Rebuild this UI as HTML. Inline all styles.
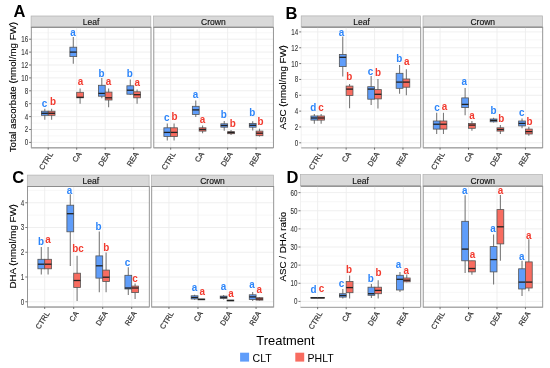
<!DOCTYPE html>
<html><head><meta charset="utf-8"><style>html,body{margin:0;padding:0;background:#fff;} svg{display:block;will-change:transform;}</style></head>
<body><svg width="550" height="368" viewBox="0 0 550 368" font-family='"Liberation Sans", sans-serif'>
<rect width="550" height="368" fill="#fff"/>
<rect x="31.10" y="16.00" width="119.70" height="11.30" fill="#D9D9D9" stroke="none" stroke-width="1"/>
<line x1="31.10" y1="27.30" x2="150.80" y2="27.30" stroke="#7A7A7A" stroke-width="1"/>
<text x="0.00" y="0.00" font-size="9" fill="#111111" text-anchor="middle" font-weight="normal" transform="translate(90.95,24.90) scale(0.95,1)" stroke="#111111" stroke-width="0.15">Leaf</text>
<line x1="31.10" y1="135.95" x2="150.80" y2="135.95" stroke="#F4F4F4" stroke-width="0.7"/>
<line x1="31.10" y1="123.05" x2="150.80" y2="123.05" stroke="#F4F4F4" stroke-width="0.7"/>
<line x1="31.10" y1="110.15" x2="150.80" y2="110.15" stroke="#F4F4F4" stroke-width="0.7"/>
<line x1="31.10" y1="97.25" x2="150.80" y2="97.25" stroke="#F4F4F4" stroke-width="0.7"/>
<line x1="31.10" y1="84.35" x2="150.80" y2="84.35" stroke="#F4F4F4" stroke-width="0.7"/>
<line x1="31.10" y1="71.45" x2="150.80" y2="71.45" stroke="#F4F4F4" stroke-width="0.7"/>
<line x1="31.10" y1="58.55" x2="150.80" y2="58.55" stroke="#F4F4F4" stroke-width="0.7"/>
<line x1="31.10" y1="45.65" x2="150.80" y2="45.65" stroke="#F4F4F4" stroke-width="0.7"/>
<line x1="31.10" y1="32.75" x2="150.80" y2="32.75" stroke="#F4F4F4" stroke-width="0.7"/>
<line x1="31.10" y1="142.40" x2="150.80" y2="142.40" stroke="#EDEDED" stroke-width="0.9"/>
<line x1="31.10" y1="129.50" x2="150.80" y2="129.50" stroke="#EDEDED" stroke-width="0.9"/>
<line x1="31.10" y1="116.60" x2="150.80" y2="116.60" stroke="#EDEDED" stroke-width="0.9"/>
<line x1="31.10" y1="103.70" x2="150.80" y2="103.70" stroke="#EDEDED" stroke-width="0.9"/>
<line x1="31.10" y1="90.80" x2="150.80" y2="90.80" stroke="#EDEDED" stroke-width="0.9"/>
<line x1="31.10" y1="77.90" x2="150.80" y2="77.90" stroke="#EDEDED" stroke-width="0.9"/>
<line x1="31.10" y1="65.00" x2="150.80" y2="65.00" stroke="#EDEDED" stroke-width="0.9"/>
<line x1="31.10" y1="52.10" x2="150.80" y2="52.10" stroke="#EDEDED" stroke-width="0.9"/>
<line x1="31.10" y1="39.20" x2="150.80" y2="39.20" stroke="#EDEDED" stroke-width="0.9"/>
<line x1="48.20" y1="27.30" x2="48.20" y2="147.70" stroke="#EDEDED" stroke-width="0.9"/>
<line x1="76.70" y1="27.30" x2="76.70" y2="147.70" stroke="#EDEDED" stroke-width="0.9"/>
<line x1="105.20" y1="27.30" x2="105.20" y2="147.70" stroke="#EDEDED" stroke-width="0.9"/>
<line x1="133.70" y1="27.30" x2="133.70" y2="147.70" stroke="#EDEDED" stroke-width="0.9"/>
<rect x="31.10" y="16.00" width="119.70" height="11.30" fill="none" stroke="#B0B0B0" stroke-width="0.7"/>
<rect x="31.30" y="27.30" width="119.70" height="120.40" fill="none" stroke="#8A8A8A" stroke-width="0.9"/>
<line x1="31.10" y1="147.80" x2="150.80" y2="147.80" stroke="#ABABAB" stroke-width="1.3"/>
<line x1="48.20" y1="147.70" x2="48.20" y2="149.70" stroke="#555555" stroke-width="0.8"/>
<line x1="76.70" y1="147.70" x2="76.70" y2="149.70" stroke="#555555" stroke-width="0.8"/>
<line x1="105.20" y1="147.70" x2="105.20" y2="149.70" stroke="#555555" stroke-width="0.8"/>
<line x1="133.70" y1="147.70" x2="133.70" y2="149.70" stroke="#555555" stroke-width="0.8"/>
<rect x="153.60" y="16.00" width="119.60" height="11.30" fill="#D9D9D9" stroke="none" stroke-width="1"/>
<line x1="153.60" y1="27.30" x2="273.20" y2="27.30" stroke="#7A7A7A" stroke-width="1"/>
<text x="0.00" y="0.00" font-size="9" fill="#111111" text-anchor="middle" font-weight="normal" transform="translate(213.40,24.90) scale(0.95,1)" stroke="#111111" stroke-width="0.15">Crown</text>
<line x1="153.60" y1="135.95" x2="273.20" y2="135.95" stroke="#F4F4F4" stroke-width="0.7"/>
<line x1="153.60" y1="123.05" x2="273.20" y2="123.05" stroke="#F4F4F4" stroke-width="0.7"/>
<line x1="153.60" y1="110.15" x2="273.20" y2="110.15" stroke="#F4F4F4" stroke-width="0.7"/>
<line x1="153.60" y1="97.25" x2="273.20" y2="97.25" stroke="#F4F4F4" stroke-width="0.7"/>
<line x1="153.60" y1="84.35" x2="273.20" y2="84.35" stroke="#F4F4F4" stroke-width="0.7"/>
<line x1="153.60" y1="71.45" x2="273.20" y2="71.45" stroke="#F4F4F4" stroke-width="0.7"/>
<line x1="153.60" y1="58.55" x2="273.20" y2="58.55" stroke="#F4F4F4" stroke-width="0.7"/>
<line x1="153.60" y1="45.65" x2="273.20" y2="45.65" stroke="#F4F4F4" stroke-width="0.7"/>
<line x1="153.60" y1="32.75" x2="273.20" y2="32.75" stroke="#F4F4F4" stroke-width="0.7"/>
<line x1="153.60" y1="142.40" x2="273.20" y2="142.40" stroke="#EDEDED" stroke-width="0.9"/>
<line x1="153.60" y1="129.50" x2="273.20" y2="129.50" stroke="#EDEDED" stroke-width="0.9"/>
<line x1="153.60" y1="116.60" x2="273.20" y2="116.60" stroke="#EDEDED" stroke-width="0.9"/>
<line x1="153.60" y1="103.70" x2="273.20" y2="103.70" stroke="#EDEDED" stroke-width="0.9"/>
<line x1="153.60" y1="90.80" x2="273.20" y2="90.80" stroke="#EDEDED" stroke-width="0.9"/>
<line x1="153.60" y1="77.90" x2="273.20" y2="77.90" stroke="#EDEDED" stroke-width="0.9"/>
<line x1="153.60" y1="65.00" x2="273.20" y2="65.00" stroke="#EDEDED" stroke-width="0.9"/>
<line x1="153.60" y1="52.10" x2="273.20" y2="52.10" stroke="#EDEDED" stroke-width="0.9"/>
<line x1="153.60" y1="39.20" x2="273.20" y2="39.20" stroke="#EDEDED" stroke-width="0.9"/>
<line x1="170.69" y1="27.30" x2="170.69" y2="147.70" stroke="#EDEDED" stroke-width="0.9"/>
<line x1="199.16" y1="27.30" x2="199.16" y2="147.70" stroke="#EDEDED" stroke-width="0.9"/>
<line x1="227.64" y1="27.30" x2="227.64" y2="147.70" stroke="#EDEDED" stroke-width="0.9"/>
<line x1="256.11" y1="27.30" x2="256.11" y2="147.70" stroke="#EDEDED" stroke-width="0.9"/>
<rect x="153.60" y="16.00" width="119.60" height="11.30" fill="none" stroke="#B0B0B0" stroke-width="0.7"/>
<rect x="153.80" y="27.30" width="119.60" height="120.40" fill="none" stroke="#8A8A8A" stroke-width="0.9"/>
<line x1="153.60" y1="147.80" x2="273.20" y2="147.80" stroke="#ABABAB" stroke-width="1.3"/>
<line x1="170.69" y1="147.70" x2="170.69" y2="149.70" stroke="#555555" stroke-width="0.8"/>
<line x1="199.16" y1="147.70" x2="199.16" y2="149.70" stroke="#555555" stroke-width="0.8"/>
<line x1="227.64" y1="147.70" x2="227.64" y2="149.70" stroke="#555555" stroke-width="0.8"/>
<line x1="256.11" y1="147.70" x2="256.11" y2="149.70" stroke="#555555" stroke-width="0.8"/>
<line x1="29.10" y1="142.40" x2="31.10" y2="142.40" stroke="#555555" stroke-width="0.8"/>
<text x="0.00" y="0.00" font-size="7.3" fill="#383838" text-anchor="end" font-weight="normal" transform="translate(28.10,145.30) scale(0.85,1.15)" stroke="#383838" stroke-width="0.1">0</text>
<line x1="29.10" y1="129.50" x2="31.10" y2="129.50" stroke="#555555" stroke-width="0.8"/>
<text x="0.00" y="0.00" font-size="7.3" fill="#383838" text-anchor="end" font-weight="normal" transform="translate(28.10,132.40) scale(0.85,1.15)" stroke="#383838" stroke-width="0.1">2</text>
<line x1="29.10" y1="116.60" x2="31.10" y2="116.60" stroke="#555555" stroke-width="0.8"/>
<text x="0.00" y="0.00" font-size="7.3" fill="#383838" text-anchor="end" font-weight="normal" transform="translate(28.10,119.50) scale(0.85,1.15)" stroke="#383838" stroke-width="0.1">4</text>
<line x1="29.10" y1="103.70" x2="31.10" y2="103.70" stroke="#555555" stroke-width="0.8"/>
<text x="0.00" y="0.00" font-size="7.3" fill="#383838" text-anchor="end" font-weight="normal" transform="translate(28.10,106.60) scale(0.85,1.15)" stroke="#383838" stroke-width="0.1">6</text>
<line x1="29.10" y1="90.80" x2="31.10" y2="90.80" stroke="#555555" stroke-width="0.8"/>
<text x="0.00" y="0.00" font-size="7.3" fill="#383838" text-anchor="end" font-weight="normal" transform="translate(28.10,93.70) scale(0.85,1.15)" stroke="#383838" stroke-width="0.1">8</text>
<line x1="29.10" y1="77.90" x2="31.10" y2="77.90" stroke="#555555" stroke-width="0.8"/>
<text x="0.00" y="0.00" font-size="7.3" fill="#383838" text-anchor="end" font-weight="normal" transform="translate(28.10,80.80) scale(0.85,1.15)" stroke="#383838" stroke-width="0.1">10</text>
<line x1="29.10" y1="65.00" x2="31.10" y2="65.00" stroke="#555555" stroke-width="0.8"/>
<text x="0.00" y="0.00" font-size="7.3" fill="#383838" text-anchor="end" font-weight="normal" transform="translate(28.10,67.90) scale(0.85,1.15)" stroke="#383838" stroke-width="0.1">12</text>
<line x1="29.10" y1="52.10" x2="31.10" y2="52.10" stroke="#555555" stroke-width="0.8"/>
<text x="0.00" y="0.00" font-size="7.3" fill="#383838" text-anchor="end" font-weight="normal" transform="translate(28.10,55.00) scale(0.85,1.15)" stroke="#383838" stroke-width="0.1">14</text>
<line x1="29.10" y1="39.20" x2="31.10" y2="39.20" stroke="#555555" stroke-width="0.8"/>
<text x="0.00" y="0.00" font-size="7.3" fill="#383838" text-anchor="end" font-weight="normal" transform="translate(28.10,42.10) scale(0.85,1.15)" stroke="#383838" stroke-width="0.1">16</text>
<text x="0.00" y="0.00" font-size="7.4" fill="#383838" text-anchor="end" font-weight="normal" transform="translate(48.80,151.30) rotate(-58) translate(0,5.33)" stroke="#383838" stroke-width="0.22">CTRL</text>
<text x="0.00" y="0.00" font-size="7.4" fill="#383838" text-anchor="end" font-weight="normal" transform="translate(77.30,151.30) rotate(-58) translate(0,5.33)" stroke="#383838" stroke-width="0.22">CA</text>
<text x="0.00" y="0.00" font-size="7.4" fill="#383838" text-anchor="end" font-weight="normal" transform="translate(105.80,151.30) rotate(-58) translate(0,5.33)" stroke="#383838" stroke-width="0.22">DEA</text>
<text x="0.00" y="0.00" font-size="7.4" fill="#383838" text-anchor="end" font-weight="normal" transform="translate(134.30,151.30) rotate(-58) translate(0,5.33)" stroke="#383838" stroke-width="0.22">REA</text>
<text x="0.00" y="0.00" font-size="7.4" fill="#383838" text-anchor="end" font-weight="normal" transform="translate(171.29,151.30) rotate(-58) translate(0,5.33)" stroke="#383838" stroke-width="0.22">CTRL</text>
<text x="0.00" y="0.00" font-size="7.4" fill="#383838" text-anchor="end" font-weight="normal" transform="translate(199.76,151.30) rotate(-58) translate(0,5.33)" stroke="#383838" stroke-width="0.22">CA</text>
<text x="0.00" y="0.00" font-size="7.4" fill="#383838" text-anchor="end" font-weight="normal" transform="translate(228.24,151.30) rotate(-58) translate(0,5.33)" stroke="#383838" stroke-width="0.22">DEA</text>
<text x="0.00" y="0.00" font-size="7.4" fill="#383838" text-anchor="end" font-weight="normal" transform="translate(256.71,151.30) rotate(-58) translate(0,5.33)" stroke="#383838" stroke-width="0.22">REA</text>
<text x="13.50" y="17.20" font-size="16.5" fill="#000" text-anchor="start" font-weight="bold">A</text>
<text x="0.00" y="0.00" font-size="9.6" fill="#000" text-anchor="middle" font-weight="normal" transform="translate(15.6,87.1) rotate(-90) scale(1.015,0.97)" stroke="#000" stroke-width="0.12">Total ascorbate (nmol/mg FW)</text>
<line x1="44.80" y1="108.80" x2="44.80" y2="119.80" stroke="#7A7A7A" stroke-width="1.1"/>
<rect x="41.40" y="111.20" width="6.80" height="4.10" fill="#5F9DFA" stroke="#555555" stroke-width="0.8"/>
<line x1="41.40" y1="113.30" x2="48.20" y2="113.30" stroke="#222222" stroke-width="1.3"/>
<line x1="51.60" y1="108.80" x2="51.60" y2="119.80" stroke="#7A7A7A" stroke-width="1.1"/>
<rect x="48.20" y="111.20" width="6.80" height="4.10" fill="#F86C60" stroke="#555555" stroke-width="0.8"/>
<line x1="48.20" y1="113.30" x2="55.00" y2="113.30" stroke="#222222" stroke-width="1.3"/>
<line x1="73.30" y1="37.10" x2="73.30" y2="63.70" stroke="#7A7A7A" stroke-width="1.1"/>
<rect x="69.90" y="47.20" width="6.80" height="9.40" fill="#5F9DFA" stroke="#555555" stroke-width="0.8"/>
<line x1="69.90" y1="52.10" x2="76.70" y2="52.10" stroke="#222222" stroke-width="1.3"/>
<line x1="80.10" y1="88.50" x2="80.10" y2="103.80" stroke="#7A7A7A" stroke-width="1.1"/>
<rect x="76.70" y="92.30" width="6.80" height="5.50" fill="#F86C60" stroke="#555555" stroke-width="0.8"/>
<line x1="76.70" y1="97.30" x2="83.50" y2="97.30" stroke="#222222" stroke-width="1.3"/>
<line x1="101.80" y1="77.90" x2="101.80" y2="98.30" stroke="#7A7A7A" stroke-width="1.1"/>
<rect x="98.40" y="85.30" width="6.80" height="10.90" fill="#5F9DFA" stroke="#555555" stroke-width="0.8"/>
<line x1="98.40" y1="93.40" x2="105.20" y2="93.40" stroke="#222222" stroke-width="1.3"/>
<line x1="108.60" y1="88.50" x2="108.60" y2="107.30" stroke="#7A7A7A" stroke-width="1.1"/>
<rect x="105.20" y="92.10" width="6.80" height="7.90" fill="#F86C60" stroke="#555555" stroke-width="0.8"/>
<line x1="105.20" y1="97.80" x2="112.00" y2="97.80" stroke="#222222" stroke-width="1.3"/>
<line x1="130.30" y1="79.60" x2="130.30" y2="95.00" stroke="#7A7A7A" stroke-width="1.1"/>
<rect x="126.90" y="85.80" width="6.80" height="8.40" fill="#5F9DFA" stroke="#555555" stroke-width="0.8"/>
<line x1="126.90" y1="90.20" x2="133.70" y2="90.20" stroke="#222222" stroke-width="1.3"/>
<line x1="137.10" y1="89.40" x2="137.10" y2="103.70" stroke="#7A7A7A" stroke-width="1.1"/>
<rect x="133.70" y="91.80" width="6.80" height="6.00" fill="#F86C60" stroke="#555555" stroke-width="0.8"/>
<line x1="133.70" y1="94.70" x2="140.50" y2="94.70" stroke="#222222" stroke-width="1.3"/>
<text x="0.00" y="0.00" font-size="9.9" fill="#2C85FA" text-anchor="middle" font-weight="bold" transform="translate(44.50,106.60) scale(1,1.03)">c</text>
<text x="0.00" y="0.00" font-size="9.9" fill="#F23A2E" text-anchor="middle" font-weight="bold" transform="translate(52.90,104.50) scale(1,1.03)">b</text>
<text x="0.00" y="0.00" font-size="9.9" fill="#2C85FA" text-anchor="middle" font-weight="bold" transform="translate(73.00,35.80) scale(1,1.03)">a</text>
<text x="0.00" y="0.00" font-size="9.9" fill="#F23A2E" text-anchor="middle" font-weight="bold" transform="translate(80.60,85.20) scale(1,1.03)">a</text>
<text x="0.00" y="0.00" font-size="9.9" fill="#2C85FA" text-anchor="middle" font-weight="bold" transform="translate(101.50,76.60) scale(1,1.03)">b</text>
<text x="0.00" y="0.00" font-size="9.9" fill="#F23A2E" text-anchor="middle" font-weight="bold" transform="translate(108.60,85.10) scale(1,1.03)">a</text>
<text x="0.00" y="0.00" font-size="9.9" fill="#2C85FA" text-anchor="middle" font-weight="bold" transform="translate(129.80,77.10) scale(1,1.03)">b</text>
<text x="0.00" y="0.00" font-size="9.9" fill="#F23A2E" text-anchor="middle" font-weight="bold" transform="translate(137.30,86.40) scale(1,1.03)">a</text>
<line x1="167.29" y1="123.40" x2="167.29" y2="140.50" stroke="#7A7A7A" stroke-width="1.1"/>
<rect x="163.89" y="127.80" width="6.80" height="8.70" fill="#5F9DFA" stroke="#555555" stroke-width="0.8"/>
<line x1="163.89" y1="132.40" x2="170.69" y2="132.40" stroke="#222222" stroke-width="1.3"/>
<line x1="174.09" y1="123.40" x2="174.09" y2="140.50" stroke="#7A7A7A" stroke-width="1.1"/>
<rect x="170.69" y="127.80" width="6.80" height="8.70" fill="#F86C60" stroke="#555555" stroke-width="0.8"/>
<line x1="170.69" y1="132.40" x2="177.49" y2="132.40" stroke="#222222" stroke-width="1.3"/>
<line x1="195.76" y1="100.60" x2="195.76" y2="116.90" stroke="#7A7A7A" stroke-width="1.1"/>
<rect x="192.36" y="106.30" width="6.80" height="8.20" fill="#5F9DFA" stroke="#555555" stroke-width="0.8"/>
<line x1="192.36" y1="109.90" x2="199.16" y2="109.90" stroke="#222222" stroke-width="1.3"/>
<line x1="202.56" y1="125.50" x2="202.56" y2="133.20" stroke="#7A7A7A" stroke-width="1.1"/>
<rect x="199.16" y="127.80" width="6.80" height="3.30" fill="#F86C60" stroke="#555555" stroke-width="0.8"/>
<line x1="199.16" y1="129.50" x2="205.96" y2="129.50" stroke="#222222" stroke-width="1.3"/>
<line x1="224.24" y1="121.00" x2="224.24" y2="130.80" stroke="#7A7A7A" stroke-width="1.1"/>
<rect x="220.84" y="123.80" width="6.80" height="3.40" fill="#5F9DFA" stroke="#555555" stroke-width="0.8"/>
<line x1="220.84" y1="125.50" x2="227.64" y2="125.50" stroke="#222222" stroke-width="1.3"/>
<line x1="231.04" y1="130.00" x2="231.04" y2="134.90" stroke="#7A7A7A" stroke-width="1.1"/>
<rect x="227.64" y="131.60" width="6.80" height="2.10" fill="#F86C60" stroke="#555555" stroke-width="0.8"/>
<line x1="227.64" y1="132.60" x2="234.44" y2="132.60" stroke="#222222" stroke-width="1.3"/>
<line x1="252.71" y1="121.30" x2="252.71" y2="130.40" stroke="#7A7A7A" stroke-width="1.1"/>
<rect x="249.31" y="123.40" width="6.80" height="3.80" fill="#5F9DFA" stroke="#555555" stroke-width="0.8"/>
<line x1="249.31" y1="125.30" x2="256.11" y2="125.30" stroke="#222222" stroke-width="1.3"/>
<line x1="259.51" y1="128.70" x2="259.51" y2="136.50" stroke="#7A7A7A" stroke-width="1.1"/>
<rect x="256.11" y="131.10" width="6.80" height="4.60" fill="#F86C60" stroke="#555555" stroke-width="0.8"/>
<line x1="256.11" y1="133.20" x2="262.91" y2="133.20" stroke="#222222" stroke-width="1.3"/>
<text x="0.00" y="0.00" font-size="9.9" fill="#2C85FA" text-anchor="middle" font-weight="bold" transform="translate(166.70,121.30) scale(1,1.03)">c</text>
<text x="0.00" y="0.00" font-size="9.9" fill="#F23A2E" text-anchor="middle" font-weight="bold" transform="translate(174.60,119.70) scale(1,1.03)">b</text>
<text x="0.00" y="0.00" font-size="9.9" fill="#2C85FA" text-anchor="middle" font-weight="bold" transform="translate(195.40,97.60) scale(1,1.03)">a</text>
<text x="0.00" y="0.00" font-size="9.9" fill="#F23A2E" text-anchor="middle" font-weight="bold" transform="translate(202.60,122.60) scale(1,1.03)">a</text>
<text x="0.00" y="0.00" font-size="9.9" fill="#2C85FA" text-anchor="middle" font-weight="bold" transform="translate(223.80,118.30) scale(1,1.03)">b</text>
<text x="0.00" y="0.00" font-size="9.9" fill="#F23A2E" text-anchor="middle" font-weight="bold" transform="translate(232.80,127.00) scale(1,1.03)">b</text>
<text x="0.00" y="0.00" font-size="9.9" fill="#2C85FA" text-anchor="middle" font-weight="bold" transform="translate(252.30,116.10) scale(1,1.03)">b</text>
<text x="0.00" y="0.00" font-size="9.9" fill="#F23A2E" text-anchor="middle" font-weight="bold" transform="translate(260.50,124.50) scale(1,1.03)">b</text>
<rect x="301.20" y="15.90" width="119.30" height="11.30" fill="#D9D9D9" stroke="none" stroke-width="1"/>
<line x1="301.20" y1="27.20" x2="420.50" y2="27.20" stroke="#7A7A7A" stroke-width="1"/>
<text x="0.00" y="0.00" font-size="9" fill="#111111" text-anchor="middle" font-weight="normal" transform="translate(361.65,24.80) scale(0.95,1)" stroke="#111111" stroke-width="0.15">Leaf</text>
<line x1="301.20" y1="134.88" x2="420.50" y2="134.88" stroke="#F4F4F4" stroke-width="0.7"/>
<line x1="301.20" y1="119.04" x2="420.50" y2="119.04" stroke="#F4F4F4" stroke-width="0.7"/>
<line x1="301.20" y1="103.20" x2="420.50" y2="103.20" stroke="#F4F4F4" stroke-width="0.7"/>
<line x1="301.20" y1="87.36" x2="420.50" y2="87.36" stroke="#F4F4F4" stroke-width="0.7"/>
<line x1="301.20" y1="71.52" x2="420.50" y2="71.52" stroke="#F4F4F4" stroke-width="0.7"/>
<line x1="301.20" y1="55.68" x2="420.50" y2="55.68" stroke="#F4F4F4" stroke-width="0.7"/>
<line x1="301.20" y1="39.84" x2="420.50" y2="39.84" stroke="#F4F4F4" stroke-width="0.7"/>
<line x1="301.20" y1="142.80" x2="420.50" y2="142.80" stroke="#EDEDED" stroke-width="0.9"/>
<line x1="301.20" y1="126.96" x2="420.50" y2="126.96" stroke="#EDEDED" stroke-width="0.9"/>
<line x1="301.20" y1="111.12" x2="420.50" y2="111.12" stroke="#EDEDED" stroke-width="0.9"/>
<line x1="301.20" y1="95.28" x2="420.50" y2="95.28" stroke="#EDEDED" stroke-width="0.9"/>
<line x1="301.20" y1="79.44" x2="420.50" y2="79.44" stroke="#EDEDED" stroke-width="0.9"/>
<line x1="301.20" y1="63.60" x2="420.50" y2="63.60" stroke="#EDEDED" stroke-width="0.9"/>
<line x1="301.20" y1="47.76" x2="420.50" y2="47.76" stroke="#EDEDED" stroke-width="0.9"/>
<line x1="301.20" y1="31.92" x2="420.50" y2="31.92" stroke="#EDEDED" stroke-width="0.9"/>
<line x1="317.74" y1="27.20" x2="317.74" y2="147.70" stroke="#EDEDED" stroke-width="0.9"/>
<line x1="346.15" y1="27.20" x2="346.15" y2="147.70" stroke="#EDEDED" stroke-width="0.9"/>
<line x1="374.55" y1="27.20" x2="374.55" y2="147.70" stroke="#EDEDED" stroke-width="0.9"/>
<line x1="402.96" y1="27.20" x2="402.96" y2="147.70" stroke="#EDEDED" stroke-width="0.9"/>
<rect x="301.20" y="15.90" width="119.30" height="11.30" fill="none" stroke="#B0B0B0" stroke-width="0.7"/>
<path d="M301.20,27.20 H420.70 V147.70" fill="none" stroke="#8A8A8A" stroke-width="0.9"/>
<line x1="301.20" y1="27.20" x2="301.20" y2="147.70" stroke="#EDEDED" stroke-width="0.8"/>
<line x1="301.20" y1="147.80" x2="420.50" y2="147.80" stroke="#ABABAB" stroke-width="1.3"/>
<line x1="317.74" y1="147.70" x2="317.74" y2="149.70" stroke="#555555" stroke-width="0.8"/>
<line x1="346.15" y1="147.70" x2="346.15" y2="149.70" stroke="#555555" stroke-width="0.8"/>
<line x1="374.55" y1="147.70" x2="374.55" y2="149.70" stroke="#555555" stroke-width="0.8"/>
<line x1="402.96" y1="147.70" x2="402.96" y2="149.70" stroke="#555555" stroke-width="0.8"/>
<rect x="423.00" y="15.90" width="119.50" height="11.30" fill="#D9D9D9" stroke="none" stroke-width="1"/>
<line x1="423.00" y1="27.20" x2="542.50" y2="27.20" stroke="#7A7A7A" stroke-width="1"/>
<text x="0.00" y="0.00" font-size="9" fill="#111111" text-anchor="middle" font-weight="normal" transform="translate(482.75,24.80) scale(0.95,1)" stroke="#111111" stroke-width="0.15">Crown</text>
<line x1="423.00" y1="134.88" x2="542.50" y2="134.88" stroke="#F4F4F4" stroke-width="0.7"/>
<line x1="423.00" y1="119.04" x2="542.50" y2="119.04" stroke="#F4F4F4" stroke-width="0.7"/>
<line x1="423.00" y1="103.20" x2="542.50" y2="103.20" stroke="#F4F4F4" stroke-width="0.7"/>
<line x1="423.00" y1="87.36" x2="542.50" y2="87.36" stroke="#F4F4F4" stroke-width="0.7"/>
<line x1="423.00" y1="71.52" x2="542.50" y2="71.52" stroke="#F4F4F4" stroke-width="0.7"/>
<line x1="423.00" y1="55.68" x2="542.50" y2="55.68" stroke="#F4F4F4" stroke-width="0.7"/>
<line x1="423.00" y1="39.84" x2="542.50" y2="39.84" stroke="#F4F4F4" stroke-width="0.7"/>
<line x1="423.00" y1="142.80" x2="542.50" y2="142.80" stroke="#EDEDED" stroke-width="0.9"/>
<line x1="423.00" y1="126.96" x2="542.50" y2="126.96" stroke="#EDEDED" stroke-width="0.9"/>
<line x1="423.00" y1="111.12" x2="542.50" y2="111.12" stroke="#EDEDED" stroke-width="0.9"/>
<line x1="423.00" y1="95.28" x2="542.50" y2="95.28" stroke="#EDEDED" stroke-width="0.9"/>
<line x1="423.00" y1="79.44" x2="542.50" y2="79.44" stroke="#EDEDED" stroke-width="0.9"/>
<line x1="423.00" y1="63.60" x2="542.50" y2="63.60" stroke="#EDEDED" stroke-width="0.9"/>
<line x1="423.00" y1="47.76" x2="542.50" y2="47.76" stroke="#EDEDED" stroke-width="0.9"/>
<line x1="423.00" y1="31.92" x2="542.50" y2="31.92" stroke="#EDEDED" stroke-width="0.9"/>
<line x1="440.07" y1="27.20" x2="440.07" y2="147.70" stroke="#EDEDED" stroke-width="0.9"/>
<line x1="468.52" y1="27.20" x2="468.52" y2="147.70" stroke="#EDEDED" stroke-width="0.9"/>
<line x1="496.98" y1="27.20" x2="496.98" y2="147.70" stroke="#EDEDED" stroke-width="0.9"/>
<line x1="525.43" y1="27.20" x2="525.43" y2="147.70" stroke="#EDEDED" stroke-width="0.9"/>
<rect x="423.00" y="15.90" width="119.50" height="11.30" fill="none" stroke="#B0B0B0" stroke-width="0.7"/>
<rect x="423.20" y="27.20" width="119.50" height="120.50" fill="none" stroke="#8A8A8A" stroke-width="0.9"/>
<line x1="423.00" y1="147.80" x2="542.50" y2="147.80" stroke="#ABABAB" stroke-width="1.3"/>
<line x1="440.07" y1="147.70" x2="440.07" y2="149.70" stroke="#555555" stroke-width="0.8"/>
<line x1="468.52" y1="147.70" x2="468.52" y2="149.70" stroke="#555555" stroke-width="0.8"/>
<line x1="496.98" y1="147.70" x2="496.98" y2="149.70" stroke="#555555" stroke-width="0.8"/>
<line x1="525.43" y1="147.70" x2="525.43" y2="149.70" stroke="#555555" stroke-width="0.8"/>
<line x1="299.20" y1="142.80" x2="301.20" y2="142.80" stroke="#555555" stroke-width="0.8"/>
<text x="0.00" y="0.00" font-size="7.3" fill="#383838" text-anchor="end" font-weight="normal" transform="translate(298.20,145.70) scale(0.85,1.15)" stroke="#383838" stroke-width="0.1">0</text>
<line x1="299.20" y1="126.96" x2="301.20" y2="126.96" stroke="#555555" stroke-width="0.8"/>
<text x="0.00" y="0.00" font-size="7.3" fill="#383838" text-anchor="end" font-weight="normal" transform="translate(298.20,129.86) scale(0.85,1.15)" stroke="#383838" stroke-width="0.1">2</text>
<line x1="299.20" y1="111.12" x2="301.20" y2="111.12" stroke="#555555" stroke-width="0.8"/>
<text x="0.00" y="0.00" font-size="7.3" fill="#383838" text-anchor="end" font-weight="normal" transform="translate(298.20,114.02) scale(0.85,1.15)" stroke="#383838" stroke-width="0.1">4</text>
<line x1="299.20" y1="95.28" x2="301.20" y2="95.28" stroke="#555555" stroke-width="0.8"/>
<text x="0.00" y="0.00" font-size="7.3" fill="#383838" text-anchor="end" font-weight="normal" transform="translate(298.20,98.18) scale(0.85,1.15)" stroke="#383838" stroke-width="0.1">6</text>
<line x1="299.20" y1="79.44" x2="301.20" y2="79.44" stroke="#555555" stroke-width="0.8"/>
<text x="0.00" y="0.00" font-size="7.3" fill="#383838" text-anchor="end" font-weight="normal" transform="translate(298.20,82.34) scale(0.85,1.15)" stroke="#383838" stroke-width="0.1">8</text>
<line x1="299.20" y1="63.60" x2="301.20" y2="63.60" stroke="#555555" stroke-width="0.8"/>
<text x="0.00" y="0.00" font-size="7.3" fill="#383838" text-anchor="end" font-weight="normal" transform="translate(298.20,66.50) scale(0.85,1.15)" stroke="#383838" stroke-width="0.1">10</text>
<line x1="299.20" y1="47.76" x2="301.20" y2="47.76" stroke="#555555" stroke-width="0.8"/>
<text x="0.00" y="0.00" font-size="7.3" fill="#383838" text-anchor="end" font-weight="normal" transform="translate(298.20,50.66) scale(0.85,1.15)" stroke="#383838" stroke-width="0.1">12</text>
<line x1="299.20" y1="31.92" x2="301.20" y2="31.92" stroke="#555555" stroke-width="0.8"/>
<text x="0.00" y="0.00" font-size="7.3" fill="#383838" text-anchor="end" font-weight="normal" transform="translate(298.20,34.82) scale(0.85,1.15)" stroke="#383838" stroke-width="0.1">14</text>
<text x="0.00" y="0.00" font-size="7.4" fill="#383838" text-anchor="end" font-weight="normal" transform="translate(318.34,151.30) rotate(-58) translate(0,5.33)" stroke="#383838" stroke-width="0.22">CTRL</text>
<text x="0.00" y="0.00" font-size="7.4" fill="#383838" text-anchor="end" font-weight="normal" transform="translate(346.75,151.30) rotate(-58) translate(0,5.33)" stroke="#383838" stroke-width="0.22">CA</text>
<text x="0.00" y="0.00" font-size="7.4" fill="#383838" text-anchor="end" font-weight="normal" transform="translate(375.15,151.30) rotate(-58) translate(0,5.33)" stroke="#383838" stroke-width="0.22">DEA</text>
<text x="0.00" y="0.00" font-size="7.4" fill="#383838" text-anchor="end" font-weight="normal" transform="translate(403.56,151.30) rotate(-58) translate(0,5.33)" stroke="#383838" stroke-width="0.22">REA</text>
<text x="0.00" y="0.00" font-size="7.4" fill="#383838" text-anchor="end" font-weight="normal" transform="translate(440.67,151.30) rotate(-58) translate(0,5.33)" stroke="#383838" stroke-width="0.22">CTRL</text>
<text x="0.00" y="0.00" font-size="7.4" fill="#383838" text-anchor="end" font-weight="normal" transform="translate(469.12,151.30) rotate(-58) translate(0,5.33)" stroke="#383838" stroke-width="0.22">CA</text>
<text x="0.00" y="0.00" font-size="7.4" fill="#383838" text-anchor="end" font-weight="normal" transform="translate(497.58,151.30) rotate(-58) translate(0,5.33)" stroke="#383838" stroke-width="0.22">DEA</text>
<text x="0.00" y="0.00" font-size="7.4" fill="#383838" text-anchor="end" font-weight="normal" transform="translate(526.03,151.30) rotate(-58) translate(0,5.33)" stroke="#383838" stroke-width="0.22">REA</text>
<text x="285.50" y="19.20" font-size="16.5" fill="#000" text-anchor="start" font-weight="bold">B</text>
<text x="0.00" y="0.00" font-size="9.6" fill="#000" text-anchor="middle" font-weight="normal" transform="translate(285.5,87.3) rotate(-90) scale(1.015,0.97)" stroke="#000" stroke-width="0.12">ASC (nmol/mg FW)</text>
<line x1="314.34" y1="113.90" x2="314.34" y2="123.70" stroke="#7A7A7A" stroke-width="1.1"/>
<rect x="310.94" y="116.00" width="6.80" height="4.10" fill="#5F9DFA" stroke="#555555" stroke-width="0.8"/>
<line x1="310.94" y1="118.00" x2="317.74" y2="118.00" stroke="#222222" stroke-width="1.3"/>
<line x1="321.14" y1="113.90" x2="321.14" y2="123.70" stroke="#7A7A7A" stroke-width="1.1"/>
<rect x="317.74" y="116.00" width="6.80" height="4.10" fill="#F86C60" stroke="#555555" stroke-width="0.8"/>
<line x1="317.74" y1="118.00" x2="324.54" y2="118.00" stroke="#222222" stroke-width="1.3"/>
<line x1="342.75" y1="36.40" x2="342.75" y2="76.50" stroke="#7A7A7A" stroke-width="1.1"/>
<rect x="339.35" y="54.40" width="6.80" height="12.20" fill="#5F9DFA" stroke="#555555" stroke-width="0.8"/>
<line x1="339.35" y1="57.30" x2="346.15" y2="57.30" stroke="#222222" stroke-width="1.3"/>
<line x1="349.55" y1="83.90" x2="349.55" y2="108.20" stroke="#7A7A7A" stroke-width="1.1"/>
<rect x="346.15" y="86.10" width="6.80" height="9.40" fill="#F86C60" stroke="#555555" stroke-width="0.8"/>
<line x1="346.15" y1="89.10" x2="352.95" y2="89.10" stroke="#222222" stroke-width="1.3"/>
<line x1="371.15" y1="76.10" x2="371.15" y2="105.10" stroke="#7A7A7A" stroke-width="1.1"/>
<rect x="367.75" y="86.70" width="6.80" height="12.50" fill="#5F9DFA" stroke="#555555" stroke-width="0.8"/>
<line x1="367.75" y1="89.10" x2="374.55" y2="89.10" stroke="#222222" stroke-width="1.3"/>
<line x1="377.95" y1="79.00" x2="377.95" y2="108.40" stroke="#7A7A7A" stroke-width="1.1"/>
<rect x="374.55" y="89.60" width="6.80" height="9.30" fill="#F86C60" stroke="#555555" stroke-width="0.8"/>
<line x1="374.55" y1="94.30" x2="381.35" y2="94.30" stroke="#222222" stroke-width="1.3"/>
<line x1="399.56" y1="65.00" x2="399.56" y2="93.70" stroke="#7A7A7A" stroke-width="1.1"/>
<rect x="396.16" y="73.30" width="6.80" height="15.00" fill="#5F9DFA" stroke="#555555" stroke-width="0.8"/>
<line x1="396.16" y1="82.10" x2="402.96" y2="82.10" stroke="#222222" stroke-width="1.3"/>
<line x1="406.36" y1="69.20" x2="406.36" y2="95.30" stroke="#7A7A7A" stroke-width="1.1"/>
<rect x="402.96" y="79.00" width="6.80" height="8.20" fill="#F86C60" stroke="#555555" stroke-width="0.8"/>
<line x1="402.96" y1="82.10" x2="409.76" y2="82.10" stroke="#222222" stroke-width="1.3"/>
<text x="0.00" y="0.00" font-size="9.9" fill="#2C85FA" text-anchor="middle" font-weight="bold" transform="translate(313.20,110.90) scale(1,1.03)">d</text>
<text x="0.00" y="0.00" font-size="9.9" fill="#F23A2E" text-anchor="middle" font-weight="bold" transform="translate(320.90,110.60) scale(1,1.03)">c</text>
<text x="0.00" y="0.00" font-size="9.9" fill="#2C85FA" text-anchor="middle" font-weight="bold" transform="translate(341.60,35.80) scale(1,1.03)">a</text>
<text x="0.00" y="0.00" font-size="9.9" fill="#F23A2E" text-anchor="middle" font-weight="bold" transform="translate(349.30,80.40) scale(1,1.03)">b</text>
<text x="0.00" y="0.00" font-size="9.9" fill="#2C85FA" text-anchor="middle" font-weight="bold" transform="translate(370.50,74.80) scale(1,1.03)">c</text>
<text x="0.00" y="0.00" font-size="9.9" fill="#F23A2E" text-anchor="middle" font-weight="bold" transform="translate(378.10,76.40) scale(1,1.03)">b</text>
<text x="0.00" y="0.00" font-size="9.9" fill="#2C85FA" text-anchor="middle" font-weight="bold" transform="translate(399.30,62.00) scale(1,1.03)">b</text>
<text x="0.00" y="0.00" font-size="9.9" fill="#F23A2E" text-anchor="middle" font-weight="bold" transform="translate(406.70,65.00) scale(1,1.03)">a</text>
<line x1="436.67" y1="112.80" x2="436.67" y2="134.00" stroke="#7A7A7A" stroke-width="1.1"/>
<rect x="433.27" y="121.00" width="6.80" height="8.10" fill="#5F9DFA" stroke="#555555" stroke-width="0.8"/>
<line x1="433.27" y1="124.20" x2="440.07" y2="124.20" stroke="#222222" stroke-width="1.3"/>
<line x1="443.47" y1="112.80" x2="443.47" y2="134.00" stroke="#7A7A7A" stroke-width="1.1"/>
<rect x="440.07" y="121.00" width="6.80" height="8.10" fill="#F86C60" stroke="#555555" stroke-width="0.8"/>
<line x1="440.07" y1="124.20" x2="446.87" y2="124.20" stroke="#222222" stroke-width="1.3"/>
<line x1="465.12" y1="88.00" x2="465.12" y2="115.30" stroke="#7A7A7A" stroke-width="1.1"/>
<rect x="461.72" y="97.90" width="6.80" height="9.70" fill="#5F9DFA" stroke="#555555" stroke-width="0.8"/>
<line x1="461.72" y1="104.40" x2="468.52" y2="104.40" stroke="#222222" stroke-width="1.3"/>
<line x1="471.92" y1="121.00" x2="471.92" y2="130.80" stroke="#7A7A7A" stroke-width="1.1"/>
<rect x="468.52" y="123.40" width="6.80" height="4.90" fill="#F86C60" stroke="#555555" stroke-width="0.8"/>
<line x1="468.52" y1="125.10" x2="475.32" y2="125.10" stroke="#222222" stroke-width="1.3"/>
<line x1="493.58" y1="117.70" x2="493.58" y2="122.60" stroke="#7A7A7A" stroke-width="1.1"/>
<rect x="490.18" y="119.00" width="6.80" height="2.80" fill="#5F9DFA" stroke="#555555" stroke-width="0.8"/>
<line x1="490.18" y1="120.40" x2="496.98" y2="120.40" stroke="#222222" stroke-width="1.3"/>
<line x1="500.38" y1="125.10" x2="500.38" y2="134.00" stroke="#7A7A7A" stroke-width="1.1"/>
<rect x="496.98" y="127.80" width="6.80" height="3.30" fill="#F86C60" stroke="#555555" stroke-width="0.8"/>
<line x1="496.98" y1="129.50" x2="503.78" y2="129.50" stroke="#222222" stroke-width="1.3"/>
<line x1="522.03" y1="118.50" x2="522.03" y2="128.30" stroke="#7A7A7A" stroke-width="1.1"/>
<rect x="518.63" y="121.00" width="6.80" height="4.90" fill="#5F9DFA" stroke="#555555" stroke-width="0.8"/>
<line x1="518.63" y1="123.40" x2="525.43" y2="123.40" stroke="#222222" stroke-width="1.3"/>
<line x1="528.83" y1="126.70" x2="528.83" y2="135.70" stroke="#7A7A7A" stroke-width="1.1"/>
<rect x="525.43" y="129.10" width="6.80" height="4.90" fill="#F86C60" stroke="#555555" stroke-width="0.8"/>
<line x1="525.43" y1="131.60" x2="532.23" y2="131.60" stroke="#222222" stroke-width="1.3"/>
<text x="0.00" y="0.00" font-size="9.9" fill="#2C85FA" text-anchor="middle" font-weight="bold" transform="translate(436.90,110.70) scale(1,1.03)">c</text>
<text x="0.00" y="0.00" font-size="9.9" fill="#F23A2E" text-anchor="middle" font-weight="bold" transform="translate(444.50,109.90) scale(1,1.03)">a</text>
<text x="0.00" y="0.00" font-size="9.9" fill="#2C85FA" text-anchor="middle" font-weight="bold" transform="translate(464.30,84.80) scale(1,1.03)">a</text>
<text x="0.00" y="0.00" font-size="9.9" fill="#F23A2E" text-anchor="middle" font-weight="bold" transform="translate(471.90,118.80) scale(1,1.03)">a</text>
<text x="0.00" y="0.00" font-size="9.9" fill="#2C85FA" text-anchor="middle" font-weight="bold" transform="translate(493.60,113.50) scale(1,1.03)">b</text>
<text x="0.00" y="0.00" font-size="9.9" fill="#F23A2E" text-anchor="middle" font-weight="bold" transform="translate(501.30,122.10) scale(1,1.03)">b</text>
<text x="0.00" y="0.00" font-size="9.9" fill="#2C85FA" text-anchor="middle" font-weight="bold" transform="translate(521.80,115.60) scale(1,1.03)">c</text>
<text x="0.00" y="0.00" font-size="9.9" fill="#F23A2E" text-anchor="middle" font-weight="bold" transform="translate(529.50,124.50) scale(1,1.03)">b</text>
<rect x="27.30" y="175.10" width="121.80" height="11.40" fill="#D9D9D9" stroke="none" stroke-width="1"/>
<line x1="27.30" y1="186.50" x2="149.10" y2="186.50" stroke="#7A7A7A" stroke-width="1"/>
<text x="0.00" y="0.00" font-size="9" fill="#111111" text-anchor="middle" font-weight="normal" transform="translate(90.80,184.00) scale(0.95,1)" stroke="#111111" stroke-width="0.15">Leaf</text>
<line x1="27.30" y1="289.38" x2="149.10" y2="289.38" stroke="#F4F4F4" stroke-width="0.7"/>
<line x1="27.30" y1="264.62" x2="149.10" y2="264.62" stroke="#F4F4F4" stroke-width="0.7"/>
<line x1="27.30" y1="239.88" x2="149.10" y2="239.88" stroke="#F4F4F4" stroke-width="0.7"/>
<line x1="27.30" y1="215.12" x2="149.10" y2="215.12" stroke="#F4F4F4" stroke-width="0.7"/>
<line x1="27.30" y1="190.38" x2="149.10" y2="190.38" stroke="#F4F4F4" stroke-width="0.7"/>
<line x1="27.30" y1="301.75" x2="149.10" y2="301.75" stroke="#EDEDED" stroke-width="0.9"/>
<line x1="27.30" y1="277.00" x2="149.10" y2="277.00" stroke="#EDEDED" stroke-width="0.9"/>
<line x1="27.30" y1="252.25" x2="149.10" y2="252.25" stroke="#EDEDED" stroke-width="0.9"/>
<line x1="27.30" y1="227.50" x2="149.10" y2="227.50" stroke="#EDEDED" stroke-width="0.9"/>
<line x1="27.30" y1="202.75" x2="149.10" y2="202.75" stroke="#EDEDED" stroke-width="0.9"/>
<line x1="44.70" y1="186.50" x2="44.70" y2="307.00" stroke="#EDEDED" stroke-width="0.9"/>
<line x1="73.70" y1="186.50" x2="73.70" y2="307.00" stroke="#EDEDED" stroke-width="0.9"/>
<line x1="102.70" y1="186.50" x2="102.70" y2="307.00" stroke="#EDEDED" stroke-width="0.9"/>
<line x1="131.70" y1="186.50" x2="131.70" y2="307.00" stroke="#EDEDED" stroke-width="0.9"/>
<rect x="27.30" y="175.10" width="121.80" height="11.40" fill="none" stroke="#B0B0B0" stroke-width="0.7"/>
<rect x="27.50" y="186.50" width="121.80" height="120.50" fill="none" stroke="#8A8A8A" stroke-width="0.9"/>
<line x1="27.30" y1="307.10" x2="149.10" y2="307.10" stroke="#ABABAB" stroke-width="1.3"/>
<line x1="44.70" y1="307.00" x2="44.70" y2="309.00" stroke="#555555" stroke-width="0.8"/>
<line x1="73.70" y1="307.00" x2="73.70" y2="309.00" stroke="#555555" stroke-width="0.8"/>
<line x1="102.70" y1="307.00" x2="102.70" y2="309.00" stroke="#555555" stroke-width="0.8"/>
<line x1="131.70" y1="307.00" x2="131.70" y2="309.00" stroke="#555555" stroke-width="0.8"/>
<rect x="151.50" y="175.10" width="122.00" height="11.40" fill="#D9D9D9" stroke="none" stroke-width="1"/>
<line x1="151.50" y1="186.50" x2="273.50" y2="186.50" stroke="#7A7A7A" stroke-width="1"/>
<text x="0.00" y="0.00" font-size="9" fill="#111111" text-anchor="middle" font-weight="normal" transform="translate(212.50,184.00) scale(0.95,1)" stroke="#111111" stroke-width="0.15">Crown</text>
<line x1="151.50" y1="289.38" x2="273.50" y2="289.38" stroke="#F4F4F4" stroke-width="0.7"/>
<line x1="151.50" y1="264.62" x2="273.50" y2="264.62" stroke="#F4F4F4" stroke-width="0.7"/>
<line x1="151.50" y1="239.88" x2="273.50" y2="239.88" stroke="#F4F4F4" stroke-width="0.7"/>
<line x1="151.50" y1="215.12" x2="273.50" y2="215.12" stroke="#F4F4F4" stroke-width="0.7"/>
<line x1="151.50" y1="190.38" x2="273.50" y2="190.38" stroke="#F4F4F4" stroke-width="0.7"/>
<line x1="151.50" y1="301.75" x2="273.50" y2="301.75" stroke="#EDEDED" stroke-width="0.9"/>
<line x1="151.50" y1="277.00" x2="273.50" y2="277.00" stroke="#EDEDED" stroke-width="0.9"/>
<line x1="151.50" y1="252.25" x2="273.50" y2="252.25" stroke="#EDEDED" stroke-width="0.9"/>
<line x1="151.50" y1="227.50" x2="273.50" y2="227.50" stroke="#EDEDED" stroke-width="0.9"/>
<line x1="151.50" y1="202.75" x2="273.50" y2="202.75" stroke="#EDEDED" stroke-width="0.9"/>
<line x1="168.93" y1="186.50" x2="168.93" y2="307.00" stroke="#EDEDED" stroke-width="0.9"/>
<line x1="197.98" y1="186.50" x2="197.98" y2="307.00" stroke="#EDEDED" stroke-width="0.9"/>
<line x1="227.02" y1="186.50" x2="227.02" y2="307.00" stroke="#EDEDED" stroke-width="0.9"/>
<line x1="256.07" y1="186.50" x2="256.07" y2="307.00" stroke="#EDEDED" stroke-width="0.9"/>
<rect x="151.50" y="175.10" width="122.00" height="11.40" fill="none" stroke="#B0B0B0" stroke-width="0.7"/>
<rect x="151.70" y="186.50" width="122.00" height="120.50" fill="none" stroke="#8A8A8A" stroke-width="0.9"/>
<line x1="151.50" y1="307.10" x2="273.50" y2="307.10" stroke="#ABABAB" stroke-width="1.3"/>
<line x1="168.93" y1="307.00" x2="168.93" y2="309.00" stroke="#555555" stroke-width="0.8"/>
<line x1="197.98" y1="307.00" x2="197.98" y2="309.00" stroke="#555555" stroke-width="0.8"/>
<line x1="227.02" y1="307.00" x2="227.02" y2="309.00" stroke="#555555" stroke-width="0.8"/>
<line x1="256.07" y1="307.00" x2="256.07" y2="309.00" stroke="#555555" stroke-width="0.8"/>
<line x1="25.30" y1="301.75" x2="27.30" y2="301.75" stroke="#555555" stroke-width="0.8"/>
<text x="0.00" y="0.00" font-size="7.3" fill="#383838" text-anchor="end" font-weight="normal" transform="translate(24.30,304.65) scale(0.85,1.15)" stroke="#383838" stroke-width="0.1">0</text>
<line x1="25.30" y1="277.00" x2="27.30" y2="277.00" stroke="#555555" stroke-width="0.8"/>
<text x="0.00" y="0.00" font-size="7.3" fill="#383838" text-anchor="end" font-weight="normal" transform="translate(24.30,279.90) scale(0.85,1.15)" stroke="#383838" stroke-width="0.1">1</text>
<line x1="25.30" y1="252.25" x2="27.30" y2="252.25" stroke="#555555" stroke-width="0.8"/>
<text x="0.00" y="0.00" font-size="7.3" fill="#383838" text-anchor="end" font-weight="normal" transform="translate(24.30,255.15) scale(0.85,1.15)" stroke="#383838" stroke-width="0.1">2</text>
<line x1="25.30" y1="227.50" x2="27.30" y2="227.50" stroke="#555555" stroke-width="0.8"/>
<text x="0.00" y="0.00" font-size="7.3" fill="#383838" text-anchor="end" font-weight="normal" transform="translate(24.30,230.40) scale(0.85,1.15)" stroke="#383838" stroke-width="0.1">3</text>
<line x1="25.30" y1="202.75" x2="27.30" y2="202.75" stroke="#555555" stroke-width="0.8"/>
<text x="0.00" y="0.00" font-size="7.3" fill="#383838" text-anchor="end" font-weight="normal" transform="translate(24.30,205.65) scale(0.85,1.15)" stroke="#383838" stroke-width="0.1">4</text>
<text x="0.00" y="0.00" font-size="7.4" fill="#383838" text-anchor="end" font-weight="normal" transform="translate(45.30,310.60) rotate(-58) translate(0,5.33)" stroke="#383838" stroke-width="0.22">CTRL</text>
<text x="0.00" y="0.00" font-size="7.4" fill="#383838" text-anchor="end" font-weight="normal" transform="translate(74.30,310.60) rotate(-58) translate(0,5.33)" stroke="#383838" stroke-width="0.22">CA</text>
<text x="0.00" y="0.00" font-size="7.4" fill="#383838" text-anchor="end" font-weight="normal" transform="translate(103.30,310.60) rotate(-58) translate(0,5.33)" stroke="#383838" stroke-width="0.22">DEA</text>
<text x="0.00" y="0.00" font-size="7.4" fill="#383838" text-anchor="end" font-weight="normal" transform="translate(132.30,310.60) rotate(-58) translate(0,5.33)" stroke="#383838" stroke-width="0.22">REA</text>
<text x="0.00" y="0.00" font-size="7.4" fill="#383838" text-anchor="end" font-weight="normal" transform="translate(169.53,310.60) rotate(-58) translate(0,5.33)" stroke="#383838" stroke-width="0.22">CTRL</text>
<text x="0.00" y="0.00" font-size="7.4" fill="#383838" text-anchor="end" font-weight="normal" transform="translate(198.58,310.60) rotate(-58) translate(0,5.33)" stroke="#383838" stroke-width="0.22">CA</text>
<text x="0.00" y="0.00" font-size="7.4" fill="#383838" text-anchor="end" font-weight="normal" transform="translate(227.62,310.60) rotate(-58) translate(0,5.33)" stroke="#383838" stroke-width="0.22">DEA</text>
<text x="0.00" y="0.00" font-size="7.4" fill="#383838" text-anchor="end" font-weight="normal" transform="translate(256.67,310.60) rotate(-58) translate(0,5.33)" stroke="#383838" stroke-width="0.22">REA</text>
<text x="12.20" y="183.40" font-size="16.5" fill="#000" text-anchor="start" font-weight="bold">C</text>
<text x="0.00" y="0.00" font-size="9.6" fill="#000" text-anchor="middle" font-weight="normal" transform="translate(15.6,246.3) rotate(-90) scale(1.015,0.97)" stroke="#000" stroke-width="0.12">DHA (nmol/mg FW)</text>
<line x1="41.30" y1="247.10" x2="41.30" y2="274.40" stroke="#7A7A7A" stroke-width="1.1"/>
<rect x="37.90" y="259.30" width="6.80" height="9.50" fill="#5F9DFA" stroke="#555555" stroke-width="0.8"/>
<line x1="37.90" y1="264.20" x2="44.70" y2="264.20" stroke="#222222" stroke-width="1.3"/>
<line x1="48.10" y1="247.10" x2="48.10" y2="274.40" stroke="#7A7A7A" stroke-width="1.1"/>
<rect x="44.70" y="259.30" width="6.80" height="9.50" fill="#F86C60" stroke="#555555" stroke-width="0.8"/>
<line x1="44.70" y1="264.20" x2="51.50" y2="264.20" stroke="#222222" stroke-width="1.3"/>
<line x1="70.30" y1="194.20" x2="70.30" y2="265.90" stroke="#7A7A7A" stroke-width="1.1"/>
<rect x="66.90" y="205.20" width="6.80" height="26.60" fill="#5F9DFA" stroke="#555555" stroke-width="0.8"/>
<line x1="66.90" y1="213.70" x2="73.70" y2="213.70" stroke="#222222" stroke-width="1.3"/>
<line x1="77.10" y1="255.80" x2="77.10" y2="301.10" stroke="#7A7A7A" stroke-width="1.1"/>
<rect x="73.70" y="273.20" width="6.80" height="14.20" fill="#F86C60" stroke="#555555" stroke-width="0.8"/>
<line x1="73.70" y1="280.50" x2="80.50" y2="280.50" stroke="#222222" stroke-width="1.3"/>
<line x1="99.30" y1="231.40" x2="99.30" y2="292.30" stroke="#7A7A7A" stroke-width="1.1"/>
<rect x="95.90" y="255.90" width="6.80" height="22.20" fill="#5F9DFA" stroke="#555555" stroke-width="0.8"/>
<line x1="95.90" y1="265.80" x2="102.70" y2="265.80" stroke="#222222" stroke-width="1.3"/>
<line x1="106.10" y1="252.60" x2="106.10" y2="292.30" stroke="#7A7A7A" stroke-width="1.1"/>
<rect x="102.70" y="270.10" width="6.80" height="11.40" fill="#F86C60" stroke="#555555" stroke-width="0.8"/>
<line x1="102.70" y1="277.20" x2="109.50" y2="277.20" stroke="#222222" stroke-width="1.3"/>
<line x1="128.30" y1="267.30" x2="128.30" y2="295.10" stroke="#7A7A7A" stroke-width="1.1"/>
<rect x="124.90" y="275.30" width="6.80" height="13.70" fill="#5F9DFA" stroke="#555555" stroke-width="0.8"/>
<line x1="124.90" y1="288.00" x2="131.70" y2="288.00" stroke="#222222" stroke-width="1.3"/>
<line x1="135.10" y1="283.60" x2="135.10" y2="299.10" stroke="#7A7A7A" stroke-width="1.1"/>
<rect x="131.70" y="286.10" width="6.80" height="6.50" fill="#F86C60" stroke="#555555" stroke-width="0.8"/>
<line x1="131.70" y1="288.00" x2="138.50" y2="288.00" stroke="#222222" stroke-width="1.3"/>
<text x="0.00" y="0.00" font-size="9.9" fill="#2C85FA" text-anchor="middle" font-weight="bold" transform="translate(41.00,244.80) scale(1,1.03)">b</text>
<text x="0.00" y="0.00" font-size="9.9" fill="#F23A2E" text-anchor="middle" font-weight="bold" transform="translate(47.90,242.80) scale(1,1.03)">a</text>
<text x="0.00" y="0.00" font-size="9.9" fill="#2C85FA" text-anchor="middle" font-weight="bold" transform="translate(69.60,193.60) scale(1,1.03)">a</text>
<text x="0.00" y="0.00" font-size="9.9" fill="#F23A2E" text-anchor="middle" font-weight="bold" transform="translate(78.00,252.30) scale(1,1.03)">bc</text>
<text x="0.00" y="0.00" font-size="9.9" fill="#2C85FA" text-anchor="middle" font-weight="bold" transform="translate(98.60,230.40) scale(1,1.03)">b</text>
<text x="0.00" y="0.00" font-size="9.9" fill="#F23A2E" text-anchor="middle" font-weight="bold" transform="translate(106.30,251.00) scale(1,1.03)">b</text>
<text x="0.00" y="0.00" font-size="9.9" fill="#2C85FA" text-anchor="middle" font-weight="bold" transform="translate(127.60,266.30) scale(1,1.03)">c</text>
<text x="0.00" y="0.00" font-size="9.9" fill="#F23A2E" text-anchor="middle" font-weight="bold" transform="translate(135.00,281.80) scale(1,1.03)">c</text>
<line x1="194.58" y1="294.80" x2="194.58" y2="299.70" stroke="#7A7A7A" stroke-width="1.1"/>
<rect x="191.18" y="295.80" width="6.80" height="3.20" fill="#5F9DFA" stroke="#555555" stroke-width="0.8"/>
<line x1="191.18" y1="297.50" x2="197.98" y2="297.50" stroke="#222222" stroke-width="1.3"/>
<line x1="201.38" y1="299.00" x2="201.38" y2="300.00" stroke="#7A7A7A" stroke-width="1.1"/>
<rect x="197.98" y="299.00" width="6.80" height="0.80" fill="#F86C60" stroke="#555555" stroke-width="0.8"/>
<line x1="197.98" y1="299.40" x2="204.78" y2="299.40" stroke="#222222" stroke-width="1.3"/>
<line x1="223.62" y1="295.00" x2="223.62" y2="299.50" stroke="#7A7A7A" stroke-width="1.1"/>
<rect x="220.22" y="296.10" width="6.80" height="2.40" fill="#5F9DFA" stroke="#555555" stroke-width="0.8"/>
<line x1="220.22" y1="297.30" x2="227.02" y2="297.30" stroke="#222222" stroke-width="1.3"/>
<line x1="230.42" y1="300.10" x2="230.42" y2="301.00" stroke="#7A7A7A" stroke-width="1.1"/>
<rect x="227.02" y="300.10" width="6.80" height="0.80" fill="#F86C60" stroke="#555555" stroke-width="0.8"/>
<line x1="227.02" y1="300.50" x2="233.82" y2="300.50" stroke="#222222" stroke-width="1.3"/>
<line x1="252.67" y1="292.00" x2="252.67" y2="301.00" stroke="#7A7A7A" stroke-width="1.1"/>
<rect x="249.27" y="294.80" width="6.80" height="4.80" fill="#5F9DFA" stroke="#555555" stroke-width="0.8"/>
<line x1="249.27" y1="296.90" x2="256.07" y2="296.90" stroke="#222222" stroke-width="1.3"/>
<line x1="259.47" y1="297.00" x2="259.47" y2="300.60" stroke="#7A7A7A" stroke-width="1.1"/>
<rect x="256.07" y="297.70" width="6.80" height="2.40" fill="#F86C60" stroke="#555555" stroke-width="0.8"/>
<line x1="256.07" y1="299.00" x2="262.87" y2="299.00" stroke="#222222" stroke-width="1.3"/>
<text x="0.00" y="0.00" font-size="9.9" fill="#2C85FA" text-anchor="middle" font-weight="bold" transform="translate(194.40,290.70) scale(1,1.03)">a</text>
<text x="0.00" y="0.00" font-size="9.9" fill="#F23A2E" text-anchor="middle" font-weight="bold" transform="translate(202.20,295.10) scale(1,1.03)">a</text>
<text x="0.00" y="0.00" font-size="9.9" fill="#2C85FA" text-anchor="middle" font-weight="bold" transform="translate(223.40,289.80) scale(1,1.03)">a</text>
<text x="0.00" y="0.00" font-size="9.9" fill="#F23A2E" text-anchor="middle" font-weight="bold" transform="translate(230.90,296.70) scale(1,1.03)">a</text>
<text x="0.00" y="0.00" font-size="9.9" fill="#2C85FA" text-anchor="middle" font-weight="bold" transform="translate(252.00,288.20) scale(1,1.03)">a</text>
<text x="0.00" y="0.00" font-size="9.9" fill="#F23A2E" text-anchor="middle" font-weight="bold" transform="translate(259.20,293.10) scale(1,1.03)">a</text>
<rect x="300.50" y="174.60" width="120.00" height="11.60" fill="#D9D9D9" stroke="none" stroke-width="1"/>
<line x1="300.50" y1="186.20" x2="420.50" y2="186.20" stroke="#7A7A7A" stroke-width="1"/>
<text x="0.00" y="0.00" font-size="9" fill="#111111" text-anchor="middle" font-weight="normal" transform="translate(360.50,183.50) scale(0.95,1)" stroke="#111111" stroke-width="0.15">Leaf</text>
<line x1="300.50" y1="292.33" x2="420.50" y2="292.33" stroke="#F4F4F4" stroke-width="0.7"/>
<line x1="300.50" y1="274.20" x2="420.50" y2="274.20" stroke="#F4F4F4" stroke-width="0.7"/>
<line x1="300.50" y1="256.07" x2="420.50" y2="256.07" stroke="#F4F4F4" stroke-width="0.7"/>
<line x1="300.50" y1="237.94" x2="420.50" y2="237.94" stroke="#F4F4F4" stroke-width="0.7"/>
<line x1="300.50" y1="219.81" x2="420.50" y2="219.81" stroke="#F4F4F4" stroke-width="0.7"/>
<line x1="300.50" y1="201.68" x2="420.50" y2="201.68" stroke="#F4F4F4" stroke-width="0.7"/>
<line x1="300.50" y1="301.40" x2="420.50" y2="301.40" stroke="#EDEDED" stroke-width="0.9"/>
<line x1="300.50" y1="283.27" x2="420.50" y2="283.27" stroke="#EDEDED" stroke-width="0.9"/>
<line x1="300.50" y1="265.14" x2="420.50" y2="265.14" stroke="#EDEDED" stroke-width="0.9"/>
<line x1="300.50" y1="247.01" x2="420.50" y2="247.01" stroke="#EDEDED" stroke-width="0.9"/>
<line x1="300.50" y1="228.88" x2="420.50" y2="228.88" stroke="#EDEDED" stroke-width="0.9"/>
<line x1="300.50" y1="210.75" x2="420.50" y2="210.75" stroke="#EDEDED" stroke-width="0.9"/>
<line x1="300.50" y1="192.62" x2="420.50" y2="192.62" stroke="#EDEDED" stroke-width="0.9"/>
<line x1="317.64" y1="186.20" x2="317.64" y2="307.20" stroke="#EDEDED" stroke-width="0.9"/>
<line x1="346.21" y1="186.20" x2="346.21" y2="307.20" stroke="#EDEDED" stroke-width="0.9"/>
<line x1="374.79" y1="186.20" x2="374.79" y2="307.20" stroke="#EDEDED" stroke-width="0.9"/>
<line x1="403.36" y1="186.20" x2="403.36" y2="307.20" stroke="#EDEDED" stroke-width="0.9"/>
<rect x="300.50" y="174.60" width="120.00" height="11.60" fill="none" stroke="#B0B0B0" stroke-width="0.7"/>
<path d="M300.50,186.20 H420.70 V307.20" fill="none" stroke="#8A8A8A" stroke-width="0.9"/>
<line x1="300.50" y1="186.20" x2="300.50" y2="307.20" stroke="#EDEDED" stroke-width="0.8"/>
<line x1="300.50" y1="307.30" x2="420.50" y2="307.30" stroke="#ABABAB" stroke-width="1.3"/>
<line x1="317.64" y1="307.20" x2="317.64" y2="309.20" stroke="#555555" stroke-width="0.8"/>
<line x1="346.21" y1="307.20" x2="346.21" y2="309.20" stroke="#555555" stroke-width="0.8"/>
<line x1="374.79" y1="307.20" x2="374.79" y2="309.20" stroke="#555555" stroke-width="0.8"/>
<line x1="403.36" y1="307.20" x2="403.36" y2="309.20" stroke="#555555" stroke-width="0.8"/>
<rect x="423.00" y="174.60" width="119.50" height="11.60" fill="#D9D9D9" stroke="none" stroke-width="1"/>
<line x1="423.00" y1="186.20" x2="542.50" y2="186.20" stroke="#7A7A7A" stroke-width="1"/>
<text x="0.00" y="0.00" font-size="9" fill="#111111" text-anchor="middle" font-weight="normal" transform="translate(482.75,183.50) scale(0.95,1)" stroke="#111111" stroke-width="0.15">Crown</text>
<line x1="423.00" y1="292.33" x2="542.50" y2="292.33" stroke="#F4F4F4" stroke-width="0.7"/>
<line x1="423.00" y1="274.20" x2="542.50" y2="274.20" stroke="#F4F4F4" stroke-width="0.7"/>
<line x1="423.00" y1="256.07" x2="542.50" y2="256.07" stroke="#F4F4F4" stroke-width="0.7"/>
<line x1="423.00" y1="237.94" x2="542.50" y2="237.94" stroke="#F4F4F4" stroke-width="0.7"/>
<line x1="423.00" y1="219.81" x2="542.50" y2="219.81" stroke="#F4F4F4" stroke-width="0.7"/>
<line x1="423.00" y1="201.68" x2="542.50" y2="201.68" stroke="#F4F4F4" stroke-width="0.7"/>
<line x1="423.00" y1="301.40" x2="542.50" y2="301.40" stroke="#EDEDED" stroke-width="0.9"/>
<line x1="423.00" y1="283.27" x2="542.50" y2="283.27" stroke="#EDEDED" stroke-width="0.9"/>
<line x1="423.00" y1="265.14" x2="542.50" y2="265.14" stroke="#EDEDED" stroke-width="0.9"/>
<line x1="423.00" y1="247.01" x2="542.50" y2="247.01" stroke="#EDEDED" stroke-width="0.9"/>
<line x1="423.00" y1="228.88" x2="542.50" y2="228.88" stroke="#EDEDED" stroke-width="0.9"/>
<line x1="423.00" y1="210.75" x2="542.50" y2="210.75" stroke="#EDEDED" stroke-width="0.9"/>
<line x1="423.00" y1="192.62" x2="542.50" y2="192.62" stroke="#EDEDED" stroke-width="0.9"/>
<line x1="440.07" y1="186.20" x2="440.07" y2="307.20" stroke="#EDEDED" stroke-width="0.9"/>
<line x1="468.52" y1="186.20" x2="468.52" y2="307.20" stroke="#EDEDED" stroke-width="0.9"/>
<line x1="496.98" y1="186.20" x2="496.98" y2="307.20" stroke="#EDEDED" stroke-width="0.9"/>
<line x1="525.43" y1="186.20" x2="525.43" y2="307.20" stroke="#EDEDED" stroke-width="0.9"/>
<rect x="423.00" y="174.60" width="119.50" height="11.60" fill="none" stroke="#B0B0B0" stroke-width="0.7"/>
<rect x="423.20" y="186.20" width="119.50" height="121.00" fill="none" stroke="#8A8A8A" stroke-width="0.9"/>
<line x1="423.00" y1="307.30" x2="542.50" y2="307.30" stroke="#ABABAB" stroke-width="1.3"/>
<line x1="440.07" y1="307.20" x2="440.07" y2="309.20" stroke="#555555" stroke-width="0.8"/>
<line x1="468.52" y1="307.20" x2="468.52" y2="309.20" stroke="#555555" stroke-width="0.8"/>
<line x1="496.98" y1="307.20" x2="496.98" y2="309.20" stroke="#555555" stroke-width="0.8"/>
<line x1="525.43" y1="307.20" x2="525.43" y2="309.20" stroke="#555555" stroke-width="0.8"/>
<line x1="298.50" y1="301.40" x2="300.50" y2="301.40" stroke="#555555" stroke-width="0.8"/>
<text x="0.00" y="0.00" font-size="7.3" fill="#383838" text-anchor="end" font-weight="normal" transform="translate(297.50,304.30) scale(0.85,1.15)" stroke="#383838" stroke-width="0.1">0</text>
<line x1="298.50" y1="283.27" x2="300.50" y2="283.27" stroke="#555555" stroke-width="0.8"/>
<text x="0.00" y="0.00" font-size="7.3" fill="#383838" text-anchor="end" font-weight="normal" transform="translate(297.50,286.17) scale(0.85,1.15)" stroke="#383838" stroke-width="0.1">10</text>
<line x1="298.50" y1="265.14" x2="300.50" y2="265.14" stroke="#555555" stroke-width="0.8"/>
<text x="0.00" y="0.00" font-size="7.3" fill="#383838" text-anchor="end" font-weight="normal" transform="translate(297.50,268.04) scale(0.85,1.15)" stroke="#383838" stroke-width="0.1">20</text>
<line x1="298.50" y1="247.01" x2="300.50" y2="247.01" stroke="#555555" stroke-width="0.8"/>
<text x="0.00" y="0.00" font-size="7.3" fill="#383838" text-anchor="end" font-weight="normal" transform="translate(297.50,249.91) scale(0.85,1.15)" stroke="#383838" stroke-width="0.1">30</text>
<line x1="298.50" y1="228.88" x2="300.50" y2="228.88" stroke="#555555" stroke-width="0.8"/>
<text x="0.00" y="0.00" font-size="7.3" fill="#383838" text-anchor="end" font-weight="normal" transform="translate(297.50,231.78) scale(0.85,1.15)" stroke="#383838" stroke-width="0.1">40</text>
<line x1="298.50" y1="210.75" x2="300.50" y2="210.75" stroke="#555555" stroke-width="0.8"/>
<text x="0.00" y="0.00" font-size="7.3" fill="#383838" text-anchor="end" font-weight="normal" transform="translate(297.50,213.65) scale(0.85,1.15)" stroke="#383838" stroke-width="0.1">50</text>
<line x1="298.50" y1="192.62" x2="300.50" y2="192.62" stroke="#555555" stroke-width="0.8"/>
<text x="0.00" y="0.00" font-size="7.3" fill="#383838" text-anchor="end" font-weight="normal" transform="translate(297.50,195.52) scale(0.85,1.15)" stroke="#383838" stroke-width="0.1">60</text>
<text x="0.00" y="0.00" font-size="7.4" fill="#383838" text-anchor="end" font-weight="normal" transform="translate(318.24,310.80) rotate(-58) translate(0,5.33)" stroke="#383838" stroke-width="0.22">CTRL</text>
<text x="0.00" y="0.00" font-size="7.4" fill="#383838" text-anchor="end" font-weight="normal" transform="translate(346.81,310.80) rotate(-58) translate(0,5.33)" stroke="#383838" stroke-width="0.22">CA</text>
<text x="0.00" y="0.00" font-size="7.4" fill="#383838" text-anchor="end" font-weight="normal" transform="translate(375.39,310.80) rotate(-58) translate(0,5.33)" stroke="#383838" stroke-width="0.22">DEA</text>
<text x="0.00" y="0.00" font-size="7.4" fill="#383838" text-anchor="end" font-weight="normal" transform="translate(403.96,310.80) rotate(-58) translate(0,5.33)" stroke="#383838" stroke-width="0.22">REA</text>
<text x="0.00" y="0.00" font-size="7.4" fill="#383838" text-anchor="end" font-weight="normal" transform="translate(440.67,310.80) rotate(-58) translate(0,5.33)" stroke="#383838" stroke-width="0.22">CTRL</text>
<text x="0.00" y="0.00" font-size="7.4" fill="#383838" text-anchor="end" font-weight="normal" transform="translate(469.12,310.80) rotate(-58) translate(0,5.33)" stroke="#383838" stroke-width="0.22">CA</text>
<text x="0.00" y="0.00" font-size="7.4" fill="#383838" text-anchor="end" font-weight="normal" transform="translate(497.58,310.80) rotate(-58) translate(0,5.33)" stroke="#383838" stroke-width="0.22">DEA</text>
<text x="0.00" y="0.00" font-size="7.4" fill="#383838" text-anchor="end" font-weight="normal" transform="translate(526.03,310.80) rotate(-58) translate(0,5.33)" stroke="#383838" stroke-width="0.22">REA</text>
<text x="286.50" y="182.90" font-size="16.5" fill="#000" text-anchor="start" font-weight="bold">D</text>
<text x="0.00" y="0.00" font-size="9.6" fill="#000" text-anchor="middle" font-weight="normal" transform="translate(285.5,246.6) rotate(-90) scale(1.015,0.97)" stroke="#000" stroke-width="0.12">ASC / DHA ratio</text>
<line x1="314.24" y1="297.40" x2="314.24" y2="298.20" stroke="#7A7A7A" stroke-width="1.1"/>
<rect x="310.84" y="297.40" width="6.80" height="0.80" fill="#5F9DFA" stroke="#555555" stroke-width="0.8"/>
<line x1="310.84" y1="297.80" x2="317.64" y2="297.80" stroke="#222222" stroke-width="1.3"/>
<line x1="321.04" y1="297.40" x2="321.04" y2="298.20" stroke="#7A7A7A" stroke-width="1.1"/>
<rect x="317.64" y="297.40" width="6.80" height="0.80" fill="#F86C60" stroke="#555555" stroke-width="0.8"/>
<line x1="317.64" y1="297.80" x2="324.44" y2="297.80" stroke="#222222" stroke-width="1.3"/>
<line x1="342.81" y1="288.90" x2="342.81" y2="298.40" stroke="#7A7A7A" stroke-width="1.1"/>
<rect x="339.41" y="293.70" width="6.80" height="3.40" fill="#5F9DFA" stroke="#555555" stroke-width="0.8"/>
<line x1="339.41" y1="295.50" x2="346.21" y2="295.50" stroke="#222222" stroke-width="1.3"/>
<line x1="349.61" y1="275.60" x2="349.61" y2="298.40" stroke="#7A7A7A" stroke-width="1.1"/>
<rect x="346.21" y="281.50" width="6.80" height="11.20" fill="#F86C60" stroke="#555555" stroke-width="0.8"/>
<line x1="346.21" y1="287.60" x2="353.01" y2="287.60" stroke="#222222" stroke-width="1.3"/>
<line x1="371.39" y1="283.90" x2="371.39" y2="298.10" stroke="#7A7A7A" stroke-width="1.1"/>
<rect x="367.99" y="287.20" width="6.80" height="8.10" fill="#5F9DFA" stroke="#555555" stroke-width="0.8"/>
<line x1="367.99" y1="293.70" x2="374.79" y2="293.70" stroke="#222222" stroke-width="1.3"/>
<line x1="378.19" y1="280.20" x2="378.19" y2="298.60" stroke="#7A7A7A" stroke-width="1.1"/>
<rect x="374.79" y="287.20" width="6.80" height="6.50" fill="#F86C60" stroke="#555555" stroke-width="0.8"/>
<line x1="374.79" y1="290.40" x2="381.59" y2="290.40" stroke="#222222" stroke-width="1.3"/>
<line x1="399.96" y1="272.00" x2="399.96" y2="292.10" stroke="#7A7A7A" stroke-width="1.1"/>
<rect x="396.56" y="275.30" width="6.80" height="14.70" fill="#5F9DFA" stroke="#555555" stroke-width="0.8"/>
<line x1="396.56" y1="279.30" x2="403.36" y2="279.30" stroke="#222222" stroke-width="1.3"/>
<line x1="406.76" y1="274.50" x2="406.76" y2="282.30" stroke="#7A7A7A" stroke-width="1.1"/>
<rect x="403.36" y="278.00" width="6.80" height="3.80" fill="#F86C60" stroke="#555555" stroke-width="0.8"/>
<line x1="403.36" y1="280.20" x2="410.16" y2="280.20" stroke="#222222" stroke-width="1.3"/>
<text x="0.00" y="0.00" font-size="9.9" fill="#2C85FA" text-anchor="middle" font-weight="bold" transform="translate(313.40,293.20) scale(1,1.03)">d</text>
<text x="0.00" y="0.00" font-size="9.9" fill="#F23A2E" text-anchor="middle" font-weight="bold" transform="translate(321.50,291.60) scale(1,1.03)">c</text>
<text x="0.00" y="0.00" font-size="9.9" fill="#2C85FA" text-anchor="middle" font-weight="bold" transform="translate(341.50,287.20) scale(1,1.03)">c</text>
<text x="0.00" y="0.00" font-size="9.9" fill="#F23A2E" text-anchor="middle" font-weight="bold" transform="translate(349.00,272.70) scale(1,1.03)">b</text>
<text x="0.00" y="0.00" font-size="9.9" fill="#2C85FA" text-anchor="middle" font-weight="bold" transform="translate(370.80,281.60) scale(1,1.03)">b</text>
<text x="0.00" y="0.00" font-size="9.9" fill="#F23A2E" text-anchor="middle" font-weight="bold" transform="translate(378.60,276.40) scale(1,1.03)">b</text>
<text x="0.00" y="0.00" font-size="9.9" fill="#2C85FA" text-anchor="middle" font-weight="bold" transform="translate(398.50,268.20) scale(1,1.03)">a</text>
<text x="0.00" y="0.00" font-size="9.9" fill="#F23A2E" text-anchor="middle" font-weight="bold" transform="translate(406.30,273.50) scale(1,1.03)">a</text>
<line x1="465.12" y1="195.20" x2="465.12" y2="273.10" stroke="#7A7A7A" stroke-width="1.1"/>
<rect x="461.72" y="221.30" width="6.80" height="39.50" fill="#5F9DFA" stroke="#555555" stroke-width="0.8"/>
<line x1="461.72" y1="249.10" x2="468.52" y2="249.10" stroke="#222222" stroke-width="1.3"/>
<line x1="471.92" y1="260.80" x2="471.92" y2="274.70" stroke="#7A7A7A" stroke-width="1.1"/>
<rect x="468.52" y="260.80" width="6.80" height="11.10" fill="#F86C60" stroke="#555555" stroke-width="0.8"/>
<line x1="468.52" y1="268.50" x2="475.32" y2="268.50" stroke="#222222" stroke-width="1.3"/>
<line x1="493.58" y1="234.60" x2="493.58" y2="284.60" stroke="#7A7A7A" stroke-width="1.1"/>
<rect x="490.18" y="246.60" width="6.80" height="25.30" fill="#5F9DFA" stroke="#555555" stroke-width="0.8"/>
<line x1="490.18" y1="259.60" x2="496.98" y2="259.60" stroke="#222222" stroke-width="1.3"/>
<line x1="500.38" y1="195.00" x2="500.38" y2="260.80" stroke="#7A7A7A" stroke-width="1.1"/>
<rect x="496.98" y="209.60" width="6.80" height="34.30" fill="#F86C60" stroke="#555555" stroke-width="0.8"/>
<line x1="496.98" y1="226.80" x2="503.78" y2="226.80" stroke="#222222" stroke-width="1.3"/>
<line x1="522.03" y1="260.80" x2="522.03" y2="296.00" stroke="#7A7A7A" stroke-width="1.1"/>
<rect x="518.63" y="268.80" width="6.80" height="20.20" fill="#5F9DFA" stroke="#555555" stroke-width="0.8"/>
<line x1="518.63" y1="282.10" x2="525.43" y2="282.10" stroke="#222222" stroke-width="1.3"/>
<line x1="528.83" y1="239.30" x2="528.83" y2="291.20" stroke="#7A7A7A" stroke-width="1.1"/>
<rect x="525.43" y="261.90" width="6.80" height="26.10" fill="#F86C60" stroke="#555555" stroke-width="0.8"/>
<line x1="525.43" y1="282.10" x2="532.23" y2="282.10" stroke="#222222" stroke-width="1.3"/>
<text x="0.00" y="0.00" font-size="9.9" fill="#2C85FA" text-anchor="middle" font-weight="bold" transform="translate(464.70,193.90) scale(1,1.03)">a</text>
<text x="0.00" y="0.00" font-size="9.9" fill="#F23A2E" text-anchor="middle" font-weight="bold" transform="translate(472.40,257.50) scale(1,1.03)">a</text>
<text x="0.00" y="0.00" font-size="9.9" fill="#2C85FA" text-anchor="middle" font-weight="bold" transform="translate(493.10,232.00) scale(1,1.03)">a</text>
<text x="0.00" y="0.00" font-size="9.9" fill="#F23A2E" text-anchor="middle" font-weight="bold" transform="translate(500.60,193.60) scale(1,1.03)">a</text>
<text x="0.00" y="0.00" font-size="9.9" fill="#2C85FA" text-anchor="middle" font-weight="bold" transform="translate(521.80,259.60) scale(1,1.03)">a</text>
<text x="0.00" y="0.00" font-size="9.9" fill="#F23A2E" text-anchor="middle" font-weight="bold" transform="translate(528.70,238.70) scale(1,1.03)">a</text>
<text x="285.50" y="345.10" font-size="12.9" fill="#000" text-anchor="middle" font-weight="normal">Treatment</text>
<rect x="240.10" y="352.70" width="9.00" height="8.90" fill="#5F9DFA" stroke="none" stroke-width="1"/>
<text x="252.60" y="361.50" font-size="10.6" fill="#000" text-anchor="start" font-weight="normal">CLT</text>
<rect x="295.30" y="352.70" width="8.90" height="8.90" fill="#F86C60" stroke="none" stroke-width="1"/>
<text x="307.60" y="361.50" font-size="10.5" fill="#000" text-anchor="start" font-weight="normal">PHLT</text>
</svg></body></html>
